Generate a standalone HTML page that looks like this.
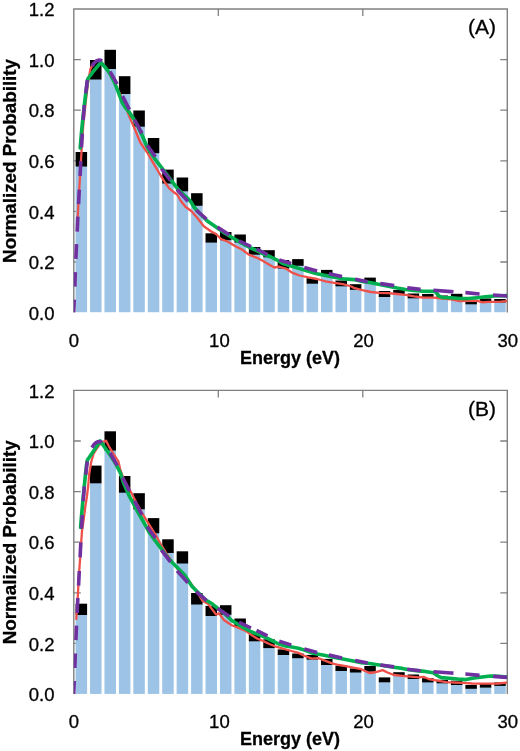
<!DOCTYPE html>
<html><head><meta charset="utf-8"><title>Normalized Probability vs Energy</title>
<style>
html,body{margin:0;padding:0;background:#fff;}
body{width:520px;height:751px;overflow:hidden;}
svg{display:block;}
.t{font-family:"Liberation Sans",Arial,sans-serif;font-size:18.5px;fill:#000;stroke:#000;stroke-width:0.3px;}
.b{font-family:"Liberation Sans",Arial,sans-serif;font-size:18.5px;font-weight:bold;fill:#000;stroke:#000;stroke-width:0.3px;}
.l{font-family:"Liberation Sans",Arial,sans-serif;font-size:21px;fill:#000;stroke:#000;stroke-width:0.3px;}
</style></head>
<body>
<svg width="520" height="751" viewBox="0 0 520 751">
<path d="M73.8 312.6V9H507.3V312.6" fill="none" stroke="#808080" stroke-width="1.4"/>
<path d="M73.8 262h7M507.3 262h-7M73.8 211.4h7M507.3 211.4h-7M73.8 160.8h7M507.3 160.8h-7M73.8 110.2h7M507.3 110.2h-7M73.8 59.6h7M507.3 59.6h-7M218.3 9v7M362.8 9v7" stroke="#808080" stroke-width="1.3" fill="none"/>
<g fill="#9dc3e6"><rect x="75.6" y="166" width="11.5" height="146.2"/><rect x="90.03" y="79" width="11.5" height="233.2"/><rect x="104.47" y="68.5" width="11.5" height="243.7"/><rect x="118.91" y="93.5" width="11.5" height="218.7"/><rect x="133.34" y="126.2" width="11.5" height="186"/><rect x="147.78" y="152.7" width="11.5" height="159.5"/><rect x="162.21" y="183" width="11.5" height="129.2"/><rect x="176.65" y="190.8" width="11.5" height="121.4"/><rect x="191.09" y="205.3" width="11.5" height="106.9"/><rect x="205.52" y="242.1" width="11.5" height="70.1"/><rect x="219.96" y="239.7" width="11.5" height="72.5"/><rect x="234.39" y="242" width="11.5" height="70.2"/><rect x="248.83" y="254.2" width="11.5" height="58"/><rect x="263.27" y="256.8" width="11.5" height="55.4"/><rect x="277.7" y="268" width="11.5" height="44.2"/><rect x="292.14" y="265.3" width="11.5" height="46.9"/><rect x="306.57" y="283.2" width="11.5" height="29"/><rect x="321.01" y="273.5" width="11.5" height="38.7"/><rect x="335.45" y="285.8" width="11.5" height="26.4"/><rect x="349.88" y="289.3" width="11.5" height="22.9"/><rect x="364.32" y="282.5" width="11.5" height="29.7"/><rect x="378.75" y="296.5" width="11.5" height="15.7"/><rect x="393.19" y="294" width="11.5" height="18.2"/><rect x="407.63" y="297.8" width="11.5" height="14.4"/><rect x="422.06" y="297" width="11.5" height="15.2"/><rect x="436.5" y="298.1" width="11.5" height="14.1"/><rect x="450.93" y="297" width="11.5" height="15.2"/><rect x="465.37" y="303.8" width="11.5" height="8.4"/><rect x="479.81" y="301.5" width="11.5" height="10.7"/><rect x="494.24" y="302" width="11.5" height="10.2"/></g>
<g fill="#000"><rect x="75.6" y="152" width="11.5" height="14.5"/><rect x="90.03" y="60" width="11.5" height="19.5"/><rect x="104.47" y="49.8" width="11.5" height="19.2"/><rect x="118.91" y="76.2" width="11.5" height="17.8"/><rect x="133.34" y="110.5" width="11.5" height="16.2"/><rect x="147.78" y="138" width="11.5" height="15.2"/><rect x="162.21" y="169.6" width="11.5" height="13.9"/><rect x="176.65" y="177.5" width="11.5" height="13.8"/><rect x="191.09" y="193.2" width="11.5" height="12.6"/><rect x="205.52" y="233.3" width="11.5" height="9.3"/><rect x="219.96" y="232" width="11.5" height="8.2"/><rect x="234.39" y="234.5" width="11.5" height="8"/><rect x="248.83" y="247" width="11.5" height="7.7"/><rect x="263.27" y="250.2" width="11.5" height="7.1"/><rect x="277.7" y="260" width="11.5" height="8.5"/><rect x="292.14" y="259.1" width="11.5" height="6.7"/><rect x="306.57" y="278.2" width="11.5" height="5.5"/><rect x="321.01" y="269.9" width="11.5" height="4.1"/><rect x="335.45" y="280.5" width="11.5" height="5.8"/><rect x="349.88" y="284.2" width="11.5" height="5.6"/><rect x="364.32" y="277.6" width="11.5" height="5.4"/><rect x="378.75" y="291" width="11.5" height="6"/><rect x="393.19" y="290" width="11.5" height="4.5"/><rect x="407.63" y="293.5" width="11.5" height="4.8"/><rect x="422.06" y="294" width="11.5" height="3.5"/><rect x="436.5" y="295.5" width="11.5" height="3.1"/><rect x="450.93" y="293.8" width="11.5" height="3.7"/><rect x="465.37" y="300.3" width="11.5" height="4"/><rect x="479.81" y="298.5" width="11.5" height="3.5"/><rect x="494.24" y="299" width="11.5" height="3.5"/></g>
<clipPath id="c312"><rect x="73.8" y="9" width="433.5" height="303.6"/></clipPath>
<g clip-path="url(#c312)">
<polyline points="77.5,222 78.3,205 79.2,190 80.1,175 81,160 81.6,150 82.3,138 83.3,125 84.6,112 86.2,98 88,83 90.4,69 93,64 96.5,60.5 100,61 103,64 107,70 111,76 115,83.5 119,92 122,98 126,108 130.4,119 135,129.5 140,142 147.2,152.5 153.8,163.8 157.7,170.5 161.5,176.8 165.4,183 169.2,188.3 173.5,192 177.1,194.5 180.7,200.8 185.5,206.8 191.5,211.2 197,217.5 203.8,226.2 210.8,231.3 216,234 221.2,239.1 228,241.7 235,246 242,249.5 248.8,254.7 255.8,257.3 262.7,260.8 270.2,265.2 274.5,267.5 278.8,266.6 285.8,268.6 292.7,272.9 299.6,275.5 308.3,277.4 317,279 325.6,281.3 334.2,282.8 343,284.1 351.5,286.5 353.7,287.8 362.3,290.2 371,292 379.6,292.8 388.3,293.2 397,294 405.6,294.9 414.2,296.3 422.9,297.5 433.7,297.7 442.3,298.6 451,299.4 459.6,301 468.3,300.8 476.3,300.6 482.5,302.3 488.8,301.8 495,301.8 501,301.6 507.2,301.2" fill="none" stroke="#f0504a" stroke-width="2.3" stroke-linejoin="round" stroke-linecap="round"/>
<polyline points="80.2,148 81,138 81.9,128 82.9,118 84,108 85.3,97 86.6,87 87.9,78.8 94,70.5 101,62.3 106.4,68.8 110.4,74.4 114.4,82.4 117.6,90.4 120,96.7 122.4,103.1 125.6,107.9 129.6,112.7 133.5,118.5 138,127 142.6,136.3 147.2,147.3 154.4,158.3 161.6,167.5 170,178.9 178.3,189.7 186.9,197.5 191.2,202.3 193.9,207 198.7,212.3 207.3,221 216,227 224.6,233 233.3,238.3 242,243.5 250.6,247.8 259.4,251.8 265,254.8 271,257 276.5,259.8 282.3,263.2 291,266 299.6,268.6 308.3,271.2 317,273.7 325.6,275.5 334.2,277.2 343,278.8 353.7,279.6 362.3,281.4 371,282.8 379.6,284.5 388.3,286.2 397,288 405.6,289.5 414.2,290.5 422.9,291.2 435,291.4 438.8,295.8 442.3,297.5 451,297.7 459.6,298.5 468.3,298.5 477,297.7 485.6,296.8 494.2,296 507.2,295.6" fill="none" stroke="#00b050" stroke-width="3.6" stroke-linejoin="round" stroke-linecap="round"/>
<polyline points="73.6,313.6 73.65,312.6 74.3,299.6 74.8,286.6 75.3,272.6 75.9,258.6 76.5,244.6 77.2,231.6 77.8,217.6 78.6,203.6 79.3,189.6 80.1,175.6 80.8,161.6 81.5,147.6 82.3,133.6 83.2,119.6 84.3,105.6 85.7,93.6 87.3,80.2 89.3,72 91.5,67 93.5,63.7 96,61.2 98.5,60.1 101,60.4 103,62 106.5,66.4 110.1,71.6 117,83.8 122.4,95.8 129.3,109.4 135.2,121 142.1,133.6 147.2,145.3 155.6,157 161.6,169 171.1,181.3 177.1,189.5 187.9,201.4 195.2,209.4 206.4,219 218,227.4 229.8,235.2 239.3,241 251.4,246.8 257.5,249.5 267.6,254.6 278.8,259.8 291,263.5 304,267.4 317,271 329,273.7 342,276.5 355.4,279.2 367.5,281.7 380.5,283.6 394.3,285.5 407.3,287.9 420.3,289.4 433.7,290.3 451,291.6 465.7,292.6 479.5,294 493.4,295 507.2,296" fill="none" stroke="#7030a0" stroke-width="3.6" stroke-linejoin="round" stroke-dasharray="0 1 13.02 13.01 14.51 13.31 14.61 12.62 15.01 12.43 14.62 13.72 14.82 13.82 13.72 13.83 14.84 11.68 13.49 14.55 13.02 13.29 14.28 13.25 15.16 11.13 15.75 12.99 14.12 13.43 14.67 11.3 16.07 12.11 13.69 13.46 14.06 11.49 13.33 6.08 12.26 12.88 12.62 13.57 13.37 11.91 13.59 13.28 12.85 12.74 14.03 13.22 13.58 12.83 20.05 11.93 14.27 13.54 14.14 50"/>
</g>
<text x="54.5" y="319.7" text-anchor="end" class="t">0.0</text>
<text x="54.5" y="269.1" text-anchor="end" class="t">0.2</text>
<text x="54.5" y="218.5" text-anchor="end" class="t">0.4</text>
<text x="54.5" y="167.9" text-anchor="end" class="t">0.6</text>
<text x="54.5" y="117.3" text-anchor="end" class="t">0.8</text>
<text x="54.5" y="66.7" text-anchor="end" class="t">1.0</text>
<text x="54.5" y="16.1" text-anchor="end" class="t">1.2</text>
<text x="73.85" y="347" text-anchor="middle" class="t">0</text>
<text x="219.4" y="347" text-anchor="middle" class="t">10</text>
<text x="363.5" y="347" text-anchor="middle" class="t">20</text>
<text x="507.7" y="347" text-anchor="middle" class="t">30</text>
<text x="240" y="363.6" class="b" textLength="100" lengthAdjust="spacingAndGlyphs">Energy (eV)</text>
<text transform="translate(16.2 262.9) rotate(-90)" class="b" textLength="204" lengthAdjust="spacingAndGlyphs">Normalized Probability</text>
<text x="468" y="34.1" class="l">(A)</text>
<path d="M73.8 694V390.4H507.3V694" fill="none" stroke="#808080" stroke-width="1.4"/>
<path d="M73.8 643.4h7M507.3 643.4h-7M73.8 592.8h7M507.3 592.8h-7M73.8 542.2h7M507.3 542.2h-7M73.8 491.6h7M507.3 491.6h-7M73.8 441h7M507.3 441h-7M218.3 390.4v7M362.8 390.4v7" stroke="#808080" stroke-width="1.3" fill="none"/>
<g fill="#9dc3e6"><rect x="75.6" y="614.5" width="11.5" height="79.4"/><rect x="90.03" y="482.8" width="11.5" height="211.1"/><rect x="104.47" y="450.1" width="11.5" height="243.8"/><rect x="118.91" y="492.2" width="11.5" height="201.7"/><rect x="133.34" y="508.8" width="11.5" height="185.1"/><rect x="147.78" y="532.8" width="11.5" height="161.1"/><rect x="162.21" y="552.5" width="11.5" height="141.4"/><rect x="176.65" y="563" width="11.5" height="130.9"/><rect x="191.09" y="604" width="11.5" height="89.9"/><rect x="205.52" y="615.5" width="11.5" height="78.4"/><rect x="219.96" y="614.3" width="11.5" height="79.6"/><rect x="234.39" y="626" width="11.5" height="67.9"/><rect x="248.83" y="640.8" width="11.5" height="53.1"/><rect x="263.27" y="647.6" width="11.5" height="46.3"/><rect x="277.7" y="654.5" width="11.5" height="39.4"/><rect x="292.14" y="657.7" width="11.5" height="36.2"/><rect x="306.57" y="659.1" width="11.5" height="34.8"/><rect x="321.01" y="664.5" width="11.5" height="29.4"/><rect x="335.45" y="670.5" width="11.5" height="23.4"/><rect x="349.88" y="672" width="11.5" height="21.9"/><rect x="364.32" y="671.2" width="11.5" height="22.7"/><rect x="378.75" y="681.8" width="11.5" height="12.1"/><rect x="393.19" y="675.5" width="11.5" height="18.4"/><rect x="407.63" y="678.5" width="11.5" height="15.4"/><rect x="422.06" y="681.9" width="11.5" height="12"/><rect x="436.5" y="682.8" width="11.5" height="11.1"/><rect x="450.93" y="684.5" width="11.5" height="9.4"/><rect x="465.37" y="688.3" width="11.5" height="5.6"/><rect x="479.81" y="687.1" width="11.5" height="6.8"/><rect x="494.24" y="685.4" width="11.5" height="8.5"/></g>
<g fill="#000"><rect x="75.6" y="603.7" width="11.5" height="11.3"/><rect x="90.03" y="465.6" width="11.5" height="17.7"/><rect x="104.47" y="431.3" width="11.5" height="19.3"/><rect x="118.91" y="476" width="11.5" height="16.7"/><rect x="133.34" y="493.2" width="11.5" height="16.1"/><rect x="147.78" y="518.1" width="11.5" height="15.2"/><rect x="162.21" y="539.3" width="11.5" height="13.7"/><rect x="176.65" y="551.3" width="11.5" height="12.2"/><rect x="191.09" y="593" width="11.5" height="11.5"/><rect x="205.52" y="605.9" width="11.5" height="10.1"/><rect x="219.96" y="605.2" width="11.5" height="9.6"/><rect x="234.39" y="618.5" width="11.5" height="8"/><rect x="248.83" y="632.6" width="11.5" height="8.7"/><rect x="263.27" y="639.3" width="11.5" height="8.8"/><rect x="277.7" y="649.4" width="11.5" height="5.6"/><rect x="292.14" y="653.5" width="11.5" height="4.7"/><rect x="306.57" y="654.9" width="11.5" height="4.7"/><rect x="321.01" y="658.9" width="11.5" height="6.1"/><rect x="335.45" y="665.6" width="11.5" height="5.4"/><rect x="349.88" y="668.4" width="11.5" height="4.1"/><rect x="364.32" y="666" width="11.5" height="5.7"/><rect x="378.75" y="677.4" width="11.5" height="4.9"/><rect x="393.19" y="672.2" width="11.5" height="3.8"/><rect x="407.63" y="674.5" width="11.5" height="4.5"/><rect x="422.06" y="678.2" width="11.5" height="4.2"/><rect x="436.5" y="679.8" width="11.5" height="3.5"/><rect x="450.93" y="680.7" width="11.5" height="4.3"/><rect x="465.37" y="685" width="11.5" height="3.8"/><rect x="479.81" y="684" width="11.5" height="3.6"/><rect x="494.24" y="682.4" width="11.5" height="3.5"/></g>
<clipPath id="c694"><rect x="73.8" y="390.4" width="433.5" height="303.6"/></clipPath>
<g clip-path="url(#c694)">
<polyline points="76.3,619 77.2,605 78,593 78.6,580 79.3,570 80,560 81,545 82,531 83.9,518 85.4,506 86.7,498 88.2,486 89.2,474 91.2,462 93.5,454 96.4,449.2 101.2,442.5 106,440.6 108.9,446.3 113.7,454 118.5,461.7 120.5,470.4 123.3,478 127.2,485.8 131,492 137,504 143,514.7 149,524.3 155,533.9 161,544.7 167,554.3 172.9,562.6 178.5,570.2 185.2,575.6 191.9,585 198.6,594.4 202.7,601.1 208,603.8 212.1,609.2 216.1,614.6 218.8,613.3 224.2,620.3 231.7,625.2 238.5,627.9 245.2,630.6 251.9,635.3 257.3,638.6 262.7,640.7 269.4,644 276.1,646.7 282.9,648.7 289.6,650.5 298.5,652.9 305.2,656.2 311.9,658.7 318.6,658.2 325.4,660.9 332.1,663.4 338.8,665 345.6,666.2 353.2,667.6 361.3,669.2 369.5,673 373.6,672.5 377.7,671.7 382.6,670.1 387.5,672.5 394,675 402.2,675.8 410.4,676.6 418.5,677.4 423.4,676.8 428.7,679 437.3,680.6 446,682.2 454.6,682.5 463.3,682.8 472,683.5 480.6,683.7 489.2,683.7 497.9,683.5 506.6,682.6" fill="none" stroke="#f0504a" stroke-width="2.3" stroke-linejoin="round" stroke-linecap="round"/>
<polyline points="80.6,527.5 81.4,517 82.3,507.2 83.3,496 84.4,485 85.6,473 86.5,465 87.3,460.2 100.3,441 106,449.2 110.8,456 115.7,463.7 120.5,473.3 123.3,482 126,488.5 129.5,496.5 133,503 137,510.5 143,521 149,532 155,540.5 161,548.3 167,556.6 172,562.3 178.5,568.8 185.2,575.6 191.9,586.3 198.6,593.1 205.4,599.8 212.1,603.8 218.8,609.2 225.6,614.6 231.7,620.5 238.5,624.5 245.2,628.6 251.9,632 258.6,634.6 265.4,637.3 272.1,640.7 278.8,644 285.6,646 291.7,647 298.5,648.2 305.2,650.4 311.9,652.9 318.6,654.2 325.4,655.6 332.1,656.9 338.8,658.2 345.6,659.6 353.2,661.1 361.3,662.7 369.5,663.5 377.7,664.8 385.8,666 394,667.3 402.2,668.4 410.4,670 418.5,670.9 425,671.4 433.2,672.8 438,676 441.3,677.6 449.5,678.2 457.7,679 465.8,679.6 474,677.9 482.2,677 490.4,676 498.5,676.2 506.7,677.1" fill="none" stroke="#00b050" stroke-width="3.6" stroke-linejoin="round" stroke-linecap="round"/>
<polyline points="73.6,695 73.65,694 74.3,681 74.8,668 75.3,654 75.9,640 76.5,626 77.2,613 77.8,599 78.6,585 79.3,571 80.1,557 80.8,543 81.5,529 82.3,515 83.2,501 84.3,487 85.7,475 87.3,461.6 89.3,453.4 91.5,448.4 93.5,445.1 96,442.6 98.5,441.5 101,441.8 103,443.4 106.5,447.8 110.1,453 117,465.2 122.4,477.2 129.3,490.8 135.2,502.4 142.1,515 147.2,526.7 155.6,538.4 161.6,550.4 171.1,562.7 177.1,570.9 187.9,582.8 195.2,590.8 206.4,600.4 218,608.8 229.8,616.6 239.3,622.4 251.4,628.2 257.5,630.9 267.6,636 278.8,641.2 291,644.9 304,648.8 317,652.4 329,655.1 342,657.9 355.4,660.6 367.5,663.1 380.5,665 394.3,666.9 407.3,669.3 420.3,670.8 433.7,671.7 451,673 465.7,674 479.5,675.4 493.4,676.4 507.2,677.4" fill="none" stroke="#7030a0" stroke-width="3.6" stroke-linejoin="round" stroke-dasharray="0 1 13.02 13.01 14.51 13.31 14.61 12.62 15.01 12.43 14.62 13.72 14.82 13.82 13.72 13.83 14.84 11.68 13.49 14.55 13.02 13.29 14.28 13.25 15.16 11.13 15.75 12.99 14.12 13.43 14.67 11.3 16.07 12.11 13.69 13.46 14.06 11.49 13.33 6.08 12.26 12.88 12.62 13.57 13.37 11.91 13.59 13.28 12.85 12.74 14.03 13.22 13.58 12.83 20.05 11.93 14.27 13.54 14.14 50"/>
</g>
<text x="54.5" y="701.1" text-anchor="end" class="t">0.0</text>
<text x="54.5" y="650.5" text-anchor="end" class="t">0.2</text>
<text x="54.5" y="599.9" text-anchor="end" class="t">0.4</text>
<text x="54.5" y="549.3" text-anchor="end" class="t">0.6</text>
<text x="54.5" y="498.7" text-anchor="end" class="t">0.8</text>
<text x="54.5" y="448.1" text-anchor="end" class="t">1.0</text>
<text x="54.5" y="397.5" text-anchor="end" class="t">1.2</text>
<text x="73.85" y="728.4" text-anchor="middle" class="t">0</text>
<text x="219.4" y="728.4" text-anchor="middle" class="t">10</text>
<text x="363.5" y="728.4" text-anchor="middle" class="t">20</text>
<text x="507.7" y="728.4" text-anchor="middle" class="t">30</text>
<text x="240" y="745" class="b" textLength="100" lengthAdjust="spacingAndGlyphs">Energy (eV)</text>
<text transform="translate(16.2 644.3) rotate(-90)" class="b" textLength="204" lengthAdjust="spacingAndGlyphs">Normalized Probability</text>
<text x="468" y="415.5" class="l">(B)</text>
</svg>
</body></html>
